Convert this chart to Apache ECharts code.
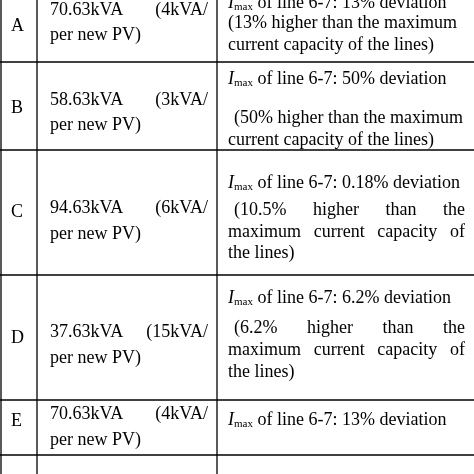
<!DOCTYPE html>
<html><head><meta charset="utf-8">
<script src="https://cdn.jsdelivr.net/npm/echarts@6/dist/echarts.min.js"></script>
<style>html,body{margin:0;padding:0;background:#fff}#c{width:474px;height:474px}</style>
</head><body><div id="c"></div>
<script>
const rowLabels = ['A','B','C','D','E'];
const capacityLines = [
  ['70.63kVA|(4kVA/','per new PV)'],
  ['58.63kVA|(3kVA/','per new PV)'],
  ['94.63kVA|(6kVA/','per new PV)'],
  ['37.63kVA|(15kVA/','per new PV)'],
  ['70.63kVA|(4kVA/','per new PV)']
];
// 'J:' prefix = justified line; '@' marks Imax
const deviationLines = [
  ['@ of line 6-7: 13% deviation','(13% higher than the maximum','current capacity of the lines)'],
  ['@ of line 6-7: 50% deviation','','(50% higher than the maximum','current capacity of the lines)'],
  ['@ of line 6-7: 0.18% deviation','J:(10.5% higher than the','J:maximum current capacity of','the lines)'],
  ['@ of line 6-7: 6.2% deviation','J:(6.2% higher than the','J:maximum current capacity of','the lines)'],
  ['@ of line 6-7: 13% deviation']
];
const rowBounds = [[-20,62],[62,150],[150,275],[275,400],[400,455]];
const devY = [[3,23,45],[79,98,118,140],[183,210,232,253],[298,328,350,372],[420]];
const capY = [[10,35],[100,125],[208,234],[332,358],[414,440]];
const letterY = [26,108,212,338,421];

const FONT = '"Liberation Serif","Times New Roman",serif';
const FS = 18;
const cv = document.createElement('canvas').getContext('2d');
cv.font = FS+'px '+FONT;
const g = [];
const st = (o)=>Object.assign({fill:'#000',fontSize:FS,fontFamily:FONT,textVerticalAlign:'middle'},o);
function txt(x,y,t,align){g.push({type:'text',x:x,y:y,style:st({text:t,textAlign:align||'left'})});}
function just(y,s,x0,x1){
  const w=s.split(' ');const tw=w.reduce((a,b)=>a+cv.measureText(b).width,0);
  const gap=(x1-x0-tw)/(w.length-1);let x=x0;
  w.forEach(word=>{txt(x,y,word);x+=cv.measureText(word).width+gap;});
}
const L=(x1,y1,x2,y2)=>g.push({type:'line',shape:{x1,y1,x2,y2},style:{stroke:'#000',lineWidth:1.3}});
[37,217].forEach(x=>L(x,0,x,474));
L(1,0,1,474);
rowBounds.forEach(b=>{ if(b[1]<474) L(0,b[1],474,b[1]); });
rowLabels.forEach((r,i)=>{
  txt(11,letterY[i],r);
  const c=capacityLines[i];
  const p=c[0].split('|');
  txt(50,capY[i][0],p[0]); txt(208,capY[i][0],p[1],'right');
  txt(50,capY[i][1],c[1]);
  deviationLines[i].forEach((s,j)=>{
    const y=devY[i][j]; if(!s) return;
    if(s.startsWith('J:')) just(y,s.slice(2),j===1?234:228,465);
    else if(s.startsWith('@')){
      g.push({type:'text',x:228,y:y,style:st({text:'{i|I}{s|max}'+s.slice(1),
        rich:{i:{fontStyle:'italic',fontSize:FS,fontFamily:FONT},s:{fontSize:11,fontFamily:FONT,padding:[8,0,0,0]}}})});
    } else txt(s.startsWith('(50')?234:228,y,s);
  });
});
const chart=echarts.init(document.getElementById('c'));
chart.setOption({animation:false,graphic:g});
</script></body></html>
